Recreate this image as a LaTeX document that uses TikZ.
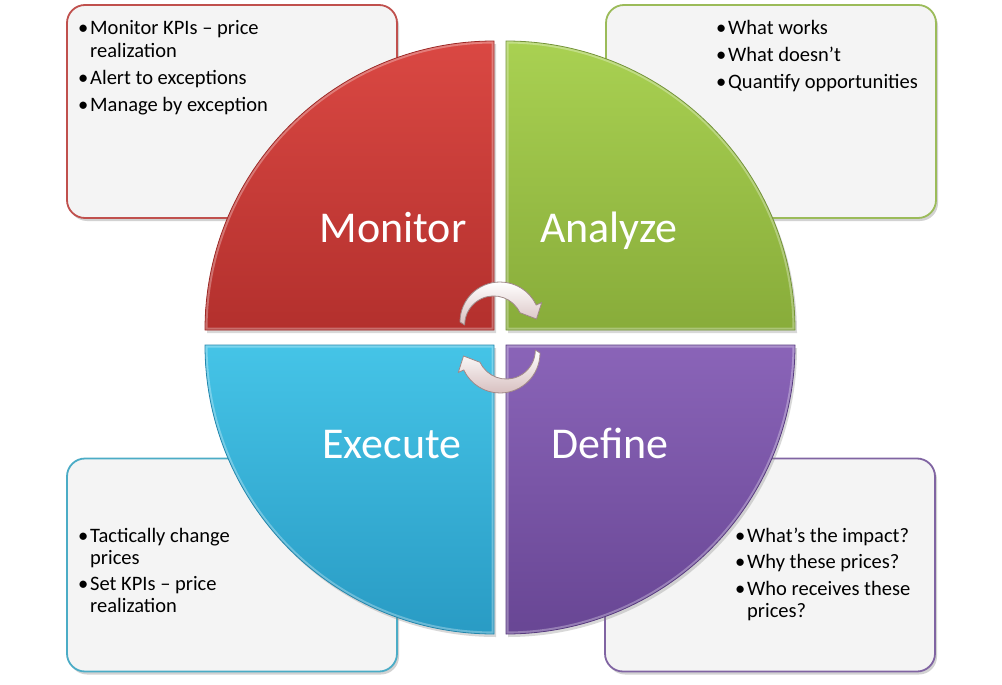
\documentclass[tikz,border=0pt]{standalone}
\usepackage{fontspec}
\setmainfont{Carlito}
\usetikzlibrary{shadows}
\definecolor{redT}{HTML}{DA4843}
\definecolor{redD}{HTML}{B3302D}
\definecolor{redE}{HTML}{9C2926}
\definecolor{grnT}{HTML}{A9D152}
\definecolor{grnD}{HTML}{88AC3A}
\definecolor{grnE}{HTML}{74933A}
\definecolor{bluT}{HTML}{45C4E7}
\definecolor{bluD}{HTML}{299BC4}
\definecolor{bluE}{HTML}{2386AC}
\definecolor{purT}{HTML}{8A64B8}
\definecolor{purD}{HTML}{684694}
\definecolor{purE}{HTML}{573B7E}
\definecolor{bdRed}{HTML}{C0504D}
\definecolor{bdGrn}{HTML}{9BBB59}
\definecolor{bdBlu}{HTML}{4BACC6}
\definecolor{bdPur}{HTML}{8064A2}
\definecolor{panelfill}{HTML}{F4F4F4}
\definecolor{arrowfill}{HTML}{D8C0C0}
\definecolor{arrowedge}{HTML}{A08888}
\newcommand{\bitem}[1]{\hbox{\makebox[12pt][l]{•}#1}}
\newcommand{\bcont}[1]{\hbox{\hspace*{12pt}#1}}
\def\qred{(494,330) -- (205,330) arc[start angle=180,end angle=270,radius=289] -- cycle}
\def\qgrn{(506,330) -- (506,41) arc[start angle=270,end angle=360,radius=289] -- cycle}
\def\qblu{(494,345) -- (205,345) arc[start angle=180,end angle=90,radius=289] -- cycle}
\def\qpur{(506,345) -- (795,345) arc[start angle=0,end angle=90,radius=289] -- cycle}
\begin{document}
\begin{tikzpicture}[x=1pt,y=-1pt,
  panel/.style={rounded corners=18pt, line width=1.8pt, fill=panelfill,
    minimum width=330pt, minimum height=213pt, inner sep=0pt,
    drop shadow={opacity=0.35, shadow xshift=2pt, shadow yshift=-3pt}},
  btext/.style={anchor=base west, inner sep=0pt, text=black},
  qlabel/.style={anchor=base, inner sep=0pt, text=white, font=\fontsize{44}{52}\selectfont},
  quad/.style={line width=1pt, drop shadow={opacity=0.3, shadow xshift=2pt, shadow yshift=-3pt}},
  bevel/.style={white, opacity=0.3, line width=5pt},
  cyc/.style={top color=white, bottom color=arrowfill, draw=arrowedge, line width=0.8pt, line join=round}
]
\useasboundingbox (0,0) rectangle (1002,685);
\fill[white] (0,0) rectangle (1002,685);

% panels
\node[panel, draw=bdRed] (tlbox) at (232,111.5) {};
\node[panel, draw=bdGrn] (trbox) at (771,111.5) {};
\node[panel, draw=bdBlu] (blbox) at (232,565) {};
\node[panel, draw=bdPur] (brbox) at (770,565) {};

\node[btext] (tltext) at (78,35) {\fontsize{20.5}{22.5}\selectfont\vtop{\baselineskip=22.5pt
  \bitem{Monitor KPIs – price}\bcont{realization}\vskip4.5pt
  \bitem{Alert to exceptions}\vskip4.5pt
  \bitem{Manage by exception}}};
\node[btext] (trtext) at (716,35) {\fontsize{20.5}{22.5}\selectfont\vtop{\baselineskip=22.5pt
  \bitem{What works}\vskip4.5pt
  \bitem{What doesn’t}\vskip4.5pt
  \bitem{Quantify opportunities}}};
\node[btext] (bltext) at (78,542) {\fontsize{20.5}{22.5}\selectfont\vtop{\baselineskip=22pt
  \bitem{Tactically change}\bcont{prices}\vskip4.5pt
  \bitem{Set KPIs – price}\bcont{realization}}};
\node[btext] (brtext) at (735,542) {\fontsize{20.5}{22.5}\selectfont\vtop{\baselineskip=22pt
  \bitem{What’s the impact?}\vskip4.5pt
  \bitem{Why these prices?}\vskip4.5pt
  \bitem{Who receives these}\bcont{prices?}}};

% quadrants
\path[quad, top color=redT, bottom color=redD] \qred;
\begin{scope}\clip \qred; \draw[bevel] \qred; \end{scope}
\draw[redE, line width=0.8pt] \qred;
\path[quad, top color=grnT, bottom color=grnD] \qgrn;
\begin{scope}\clip \qgrn; \draw[bevel] \qgrn; \end{scope}
\draw[grnE, line width=0.8pt] \qgrn;
\path[quad, top color=bluT, bottom color=bluD] \qblu;
\begin{scope}\clip \qblu; \draw[bevel] \qblu; \end{scope}
\draw[bluE, line width=0.8pt] \qblu;
\path[quad, top color=purT, bottom color=purD] \qpur;
\begin{scope}\clip \qpur; \draw[bevel] \qpur; \end{scope}
\draw[purE, line width=0.8pt] \qpur;

\node[qlabel] (mon) at (393,242) {Monitor};
\node[qlabel] (ana) at (609,242) {Analyze};
\node[qlabel] (exe) at (392,458) {Execute};
\node[qlabel] (def) at (610,458) {Define};

% cycle arrows
\path[cyc] ([shift={(500,322)}]180:40) arc[start angle=180,end angle=335,radius=40]
  -- ([shift={(500,322)}]335:46) -- ([shift={(500,322)}]36.5,-3)
  -- ([shift={(500,322)}]335:22) arc[start angle=335,end angle=180,radius=29] -- cycle;
\path[cyc] ([shift={(500,353)}]0:40) arc[start angle=0,end angle=155,radius=40]
  -- ([shift={(500,353)}]155:46) -- ([shift={(500,353)}]-36.5,3)
  -- ([shift={(500,353)}]155:22) arc[start angle=155,end angle=0,radius=29] -- cycle;
\end{tikzpicture}
\end{document}
